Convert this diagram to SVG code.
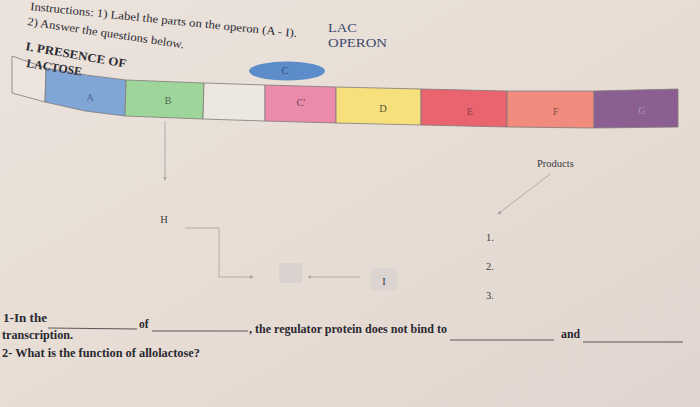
<svg xmlns="http://www.w3.org/2000/svg" width="700" height="407" viewBox="0 0 700 407">
<defs>
<linearGradient id="bg" x1="0" y1="0" x2="1" y2="1">
<stop offset="0" stop-color="#ebe3dc"/>
<stop offset="0.5" stop-color="#e7ddd5"/>
<stop offset="1" stop-color="#e1d6cf"/>
</linearGradient>
<marker id="ah" viewBox="0 0 6 6" refX="5" refY="3" markerWidth="4" markerHeight="4" orient="auto">
<path d="M0,0 L6,3 L0,6 z" fill="#aaa19e"/>
</marker>
<style>
.t{font-family:"Liberation Serif","Times New Roman",serif;fill:#2b2a33;}
.b{font-weight:bold;}
.cell{stroke:#7f7a78;stroke-width:0.8;}
.lab{font-family:"Liberation Serif","Times New Roman",serif;font-size:10.5px;text-anchor:middle;}
.con{fill:none;stroke:#b4aba8;stroke-width:1;}
.q{font-family:"Liberation Serif","Times New Roman",serif;font-weight:bold;font-size:11.5px;fill:#2a2930;}
.ul{stroke:#4a4548;stroke-width:0.9;}
</style>
</defs>
<rect width="700" height="407" fill="url(#bg)"/>

<g id="operon">
<g id="cell-blank1"><polygon class="cell" points="12,56 46,68 45,102 12,93" fill="#ece5df"/></g>
<g id="cell-A"><polygon class="cell" points="46,68 86,75 126,80 125,116 85,111 45,102" fill="#80a6d6"/><text class="lab" x="90" y="101" fill="#566a90">A</text></g>
<g id="cell-B"><polygon class="cell" points="126,80 204,83 203,119 125,116" fill="#9ed59a"/><text class="lab" x="168" y="104" fill="#4e6a50">B</text></g>
<g id="cell-blank2"><polygon class="cell" points="204,83 265,85 265,121 203,119" fill="#ede7e2"/></g>
<g id="cell-Cp"><polygon class="cell" points="265,85 336,87 336,123 265,121" fill="#ea8bac"/><text class="lab" x="301" y="106" fill="#7a4a5e">C'</text></g>
<g id="cell-D"><polygon class="cell" points="336,87 421,89 421,125 336,123" fill="#f6e07c"/><text class="lab" x="383" y="112" fill="#5a5238">D</text></g>
<g id="cell-E"><polygon class="cell" points="421,89 507,91 507,127 421,125" fill="#ea6470"/><text class="lab" x="470" y="115" fill="#8a4048">E</text></g>
<g id="cell-F"><polygon class="cell" points="507,91 594,91 594,128 507,127" fill="#f08b7d"/><text class="lab" x="556" y="115" fill="#8a4e48">F</text></g>
<g id="cell-G"><polygon class="cell" points="594,91 678,89 678,127 594,128" fill="#8c5f93"/><text class="lab" x="642" y="114" fill="#a893b0">G</text></g>
</g>

<g id="instructions">
<text class="t" font-size="11.5" transform="rotate(5.8 30 10)" x="30" y="10" textLength="268" lengthAdjust="spacingAndGlyphs">Instructions: 1) Label the parts on the operon (A - I).</text>
<text class="t" font-size="11.5" transform="rotate(8.5 27 25)" x="27" y="25" textLength="158" lengthAdjust="spacingAndGlyphs">2) Answer the questions below.</text>
</g>

<g id="title">
<text class="t" font-size="13" x="328" y="32" style="fill:#3b4a6b" textLength="29" lengthAdjust="spacingAndGlyphs">LAC</text>
<text class="t" font-size="13" x="328" y="47" style="fill:#3b4a6b" textLength="59" lengthAdjust="spacingAndGlyphs">OPERON</text>
</g>

<g id="heading">
<text class="t b" font-size="12" transform="rotate(10 25 50)" x="25" y="50" textLength="102" lengthAdjust="spacingAndGlyphs">I. PRESENCE OF</text>
<text class="t b" font-size="12" transform="rotate(9 26 67)" x="26" y="67" textLength="56" lengthAdjust="spacingAndGlyphs">LACTOSE</text>
</g>

<g id="node-C">
<ellipse cx="287" cy="71" rx="38" ry="9.5" fill="#5c8cca"/>
<text class="lab" x="285" y="74" fill="#34507e">C</text>
</g>

<g id="node-H"><text class="lab" x="164" y="223" fill="#3a3a40">H</text></g>
<g id="node-square"><rect x="279" y="263" width="23" height="20" rx="1" fill="#dad2ce"/></g>
<g id="node-I"><rect x="371" y="268" width="26" height="22" rx="2" fill="#dcd4d0"/><text class="lab" x="384" y="285" fill="#3a3a40">I</text></g>
<g id="node-products"><text class="t" font-size="10.5" x="537" y="167" style="fill:#3a3a42">Products</text></g>
<g id="node-list">
<text class="t" font-size="10.5" x="486" y="241" style="fill:#3a3a42">1.</text>
<text class="t" font-size="10.5" x="486" y="270" style="fill:#3a3a42">2.</text>
<text class="t" font-size="10.5" x="486" y="299" style="fill:#3a3a42">3.</text>
</g>

<g id="connectors">
<line class="con" x1="165" y1="121" x2="165" y2="180" marker-end="url(#ah)"/>
<polyline class="con" points="185,228 219,228 219,277 253,277" marker-end="url(#ah)"/>
<line class="con" x1="360" y1="277" x2="308" y2="277" marker-end="url(#ah)"/>
<line class="con" x1="550" y1="174" x2="498" y2="214" marker-end="url(#ah)"/>
</g>

<g id="questions">
<text class="q" x="3" y="322" textLength="44" lengthAdjust="spacingAndGlyphs">1-In the</text>
<line class="ul" x1="48" y1="328" x2="137" y2="329"/>
<text class="q" x="139" y="328">of</text>
<line class="ul" x1="152" y1="331" x2="248" y2="331"/>
<text class="q" x="249" y="333" textLength="198" lengthAdjust="spacingAndGlyphs">, the regulator protein does not bind to</text>
<line class="ul" x1="450" y1="340" x2="554" y2="340"/>
<text class="q" x="561" y="338" textLength="19" lengthAdjust="spacingAndGlyphs">and</text>
<line class="ul" x1="583" y1="342" x2="683" y2="342"/>
<text class="q" x="2" y="339" textLength="71" lengthAdjust="spacingAndGlyphs">transcription.</text>
<text class="q" x="2" y="357" textLength="198" lengthAdjust="spacingAndGlyphs">2- What is the function of allolactose?</text>
</g>
</svg>
